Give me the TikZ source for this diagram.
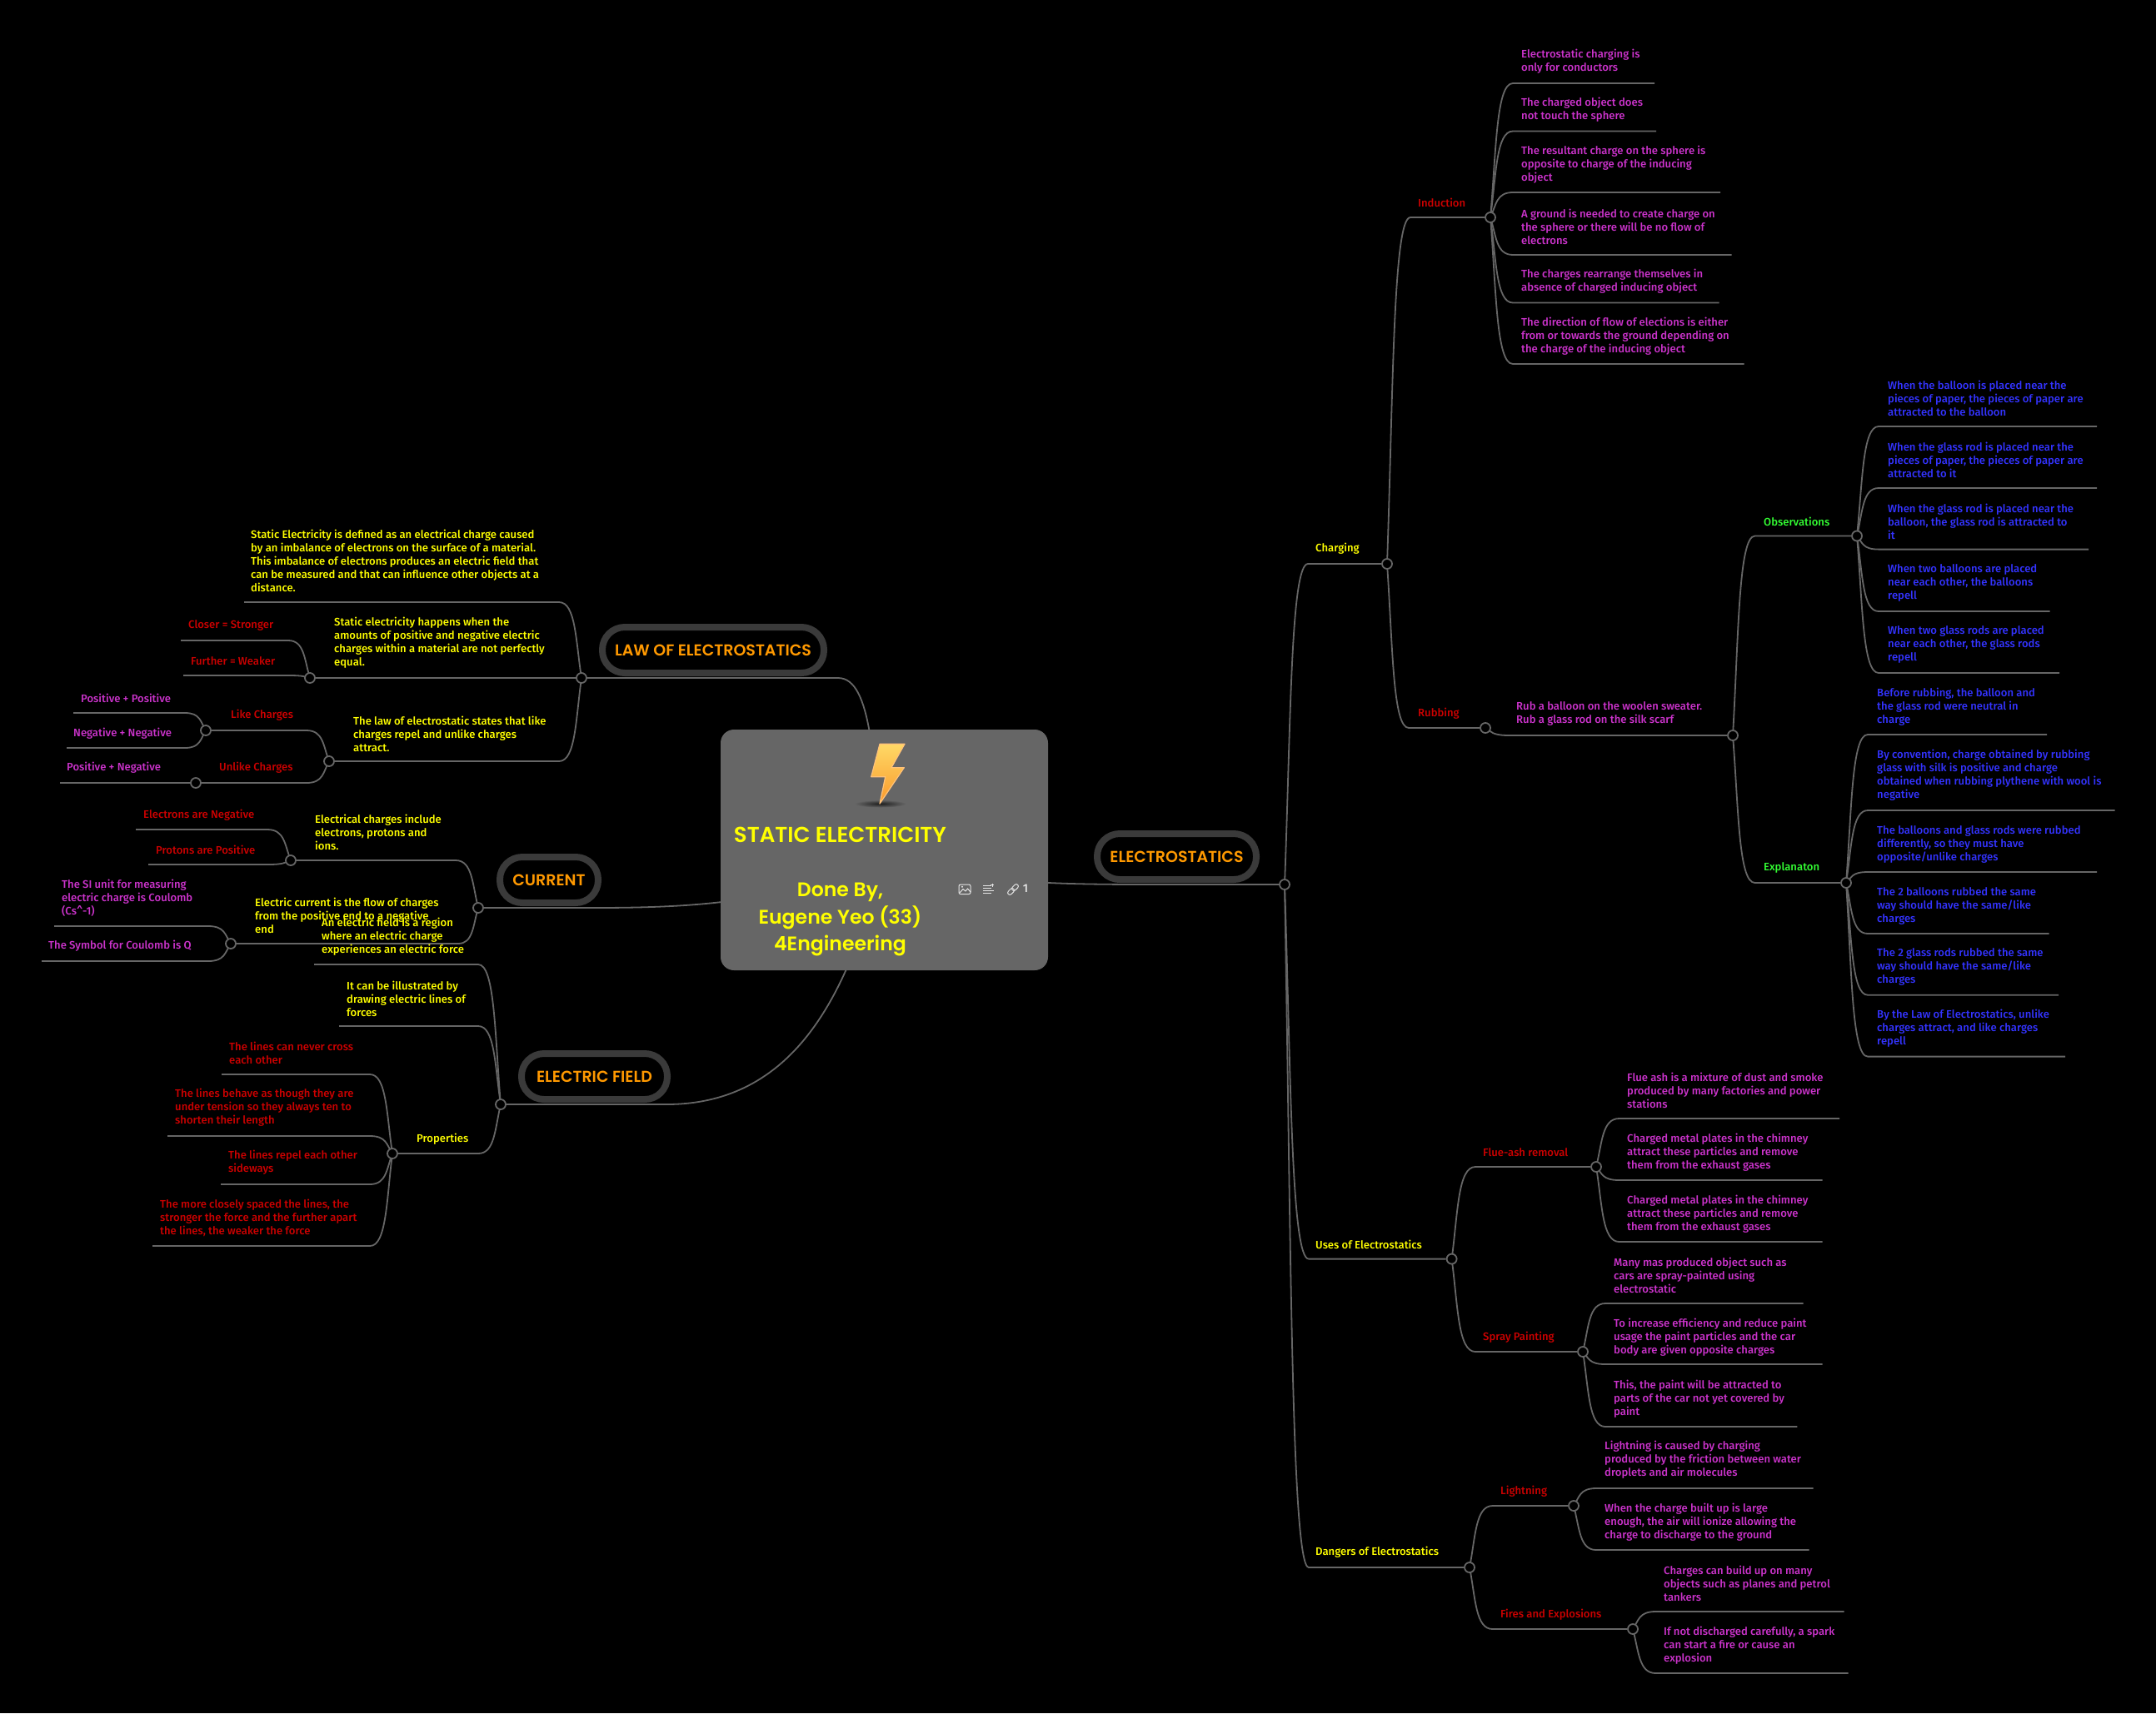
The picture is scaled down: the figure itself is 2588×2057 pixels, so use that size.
\documentclass[tikz,border=0pt]{standalone}
\usepackage{fontspec}
\setmainfont{Fira Sans}[UprightFont=* Medium,BoldFont=* SemiBold]
\newfontfamily\headfont{Poppins}[UprightFont=* SemiBold]
\usetikzlibrary{calc,shadings}
\pgfdeclarelayer{wires}
\pgfsetlayers{wires,main}
\definecolor{cyel}{HTML}{FFFF00}
\definecolor{cred}{HTML}{CC0000}
\definecolor{cmag}{HTML}{CC33CC}
\definecolor{cblu}{HTML}{3333FF}
\definecolor{cgrn}{HTML}{33FF33}
\definecolor{corg}{HTML}{FF9900}
\definecolor{cwire}{HTML}{666666}
\definecolor{cpill}{HTML}{3A3A3A}
\definecolor{bolttop}{HTML}{FFD966}
\definecolor{boltbot}{HTML}{F9982B}
\definecolor{boltedge}{HTML}{FFC27A}
\tikzset{
  wire/.style={draw=cwire,line width=1.8pt},
  hub/.style={circle,draw=cwire,fill=black,line width=1.8pt,minimum size=12pt,inner sep=0pt},
  lab/.style={anchor=west,inner sep=0pt,align=left,yshift=-1pt,font=\fontsize{13.1}{16}\selectfont},
  yl/.style={lab,text=cyel}, rd/.style={lab,text=cred}, mg/.style={lab,text=cmag},
  bl/.style={lab,text=cblu}, gn/.style={lab,text=cgrn},
  pill/.style={draw=cpill,fill=black,line width=8pt,rounded corners=27pt,inner sep=0pt,text=corg,font=\headfont\fontsize{19}{20}\selectfont},
  iconln/.style={draw=white!90!black,line width=1pt}
}
\newcommand\leaf[5]{% hub, name, startx, endx, y
  \coordinate (#2s) at (#3,#5); \coordinate (#2e) at (#4,#5);
  \begin{pgfonlayer}{wires}
  \draw[wire] let \p1=(#1),\p2=(#2s) in (\p1) .. controls ({\x1+0.26*(\x2-\x1)},{\y1+0.5*(\y2-\y1)}) and ({\x1+0.26*(\x2-\x1)},\y2) .. (\p2) -- (#2e);
  \end{pgfonlayer}}
\newcommand\hublink[5]{% parent, name, startx, y, child hub
  \coordinate (#2s) at (#3,#4);
  \begin{pgfonlayer}{wires}
  \draw[wire] let \p1=(#1),\p2=(#2s) in (\p1) .. controls ({\x1+0.26*(\x2-\x1)},{\y1+0.5*(\y2-\y1)}) and ({\x1+0.26*(\x2-\x1)},\y2) .. (\p2) -- (#5);
  \end{pgfonlayer}}
\begin{document}
\begin{tikzpicture}[x=1pt,y=-1pt]
\useasboundingbox (0,0) rectangle (2588,2057);
\begin{pgfonlayer}{wires}
\fill[black] (0,0) rectangle (2588,2057);
\end{pgfonlayer}
% central
\node[fill=cwire,rounded corners=16pt,minimum width=393pt,minimum height=289pt,inner sep=0pt] (central) at (1061.5,1020.5) {};
% hubs
\node[hub] (hE) at (1542,1062) {};
\node[hub] (hLaw) at (698,814) {};
\node[hub] (hStat) at (372,814) {};
\node[hub] (hLawS) at (395,914) {};
\node[hub] (hLike) at (247,877) {};
\node[hub] (hUnl) at (235,940) {};
\node[hub] (hCur) at (574,1090) {};
\node[hub] (hIncl) at (349,1033) {};
\node[hub] (hFlow) at (277,1133) {};
\node[hub] (hFld) at (601,1326) {};
\node[hub] (hProp) at (471,1385) {};
\node[hub] (hChg) at (1665,677) {};
\node[hub] (hInd) at (1789,261) {};
\node[hub] (hRub) at (1783,874) {};
\node[hub] (hRubT) at (2080,883) {};
\node[hub] (hObs) at (2229,643.5) {};
\node[hub] (hExp) at (2216,1060) {};
\node[hub] (hUse) at (1742.6,1511.6) {};
\node[hub] (hDan) at (1764,1882) {};
\node[hub] (hFlue) at (1916,1401) {};
\node[hub] (hSpr) at (1900,1623) {};
\node[hub] (hLit) at (1889,1808) {};
\node[hub] (hFir) at (1960,1956) {};
% pills
\node[pill,minimum width=266pt,minimum height=55pt] (pLaw) at (856,780.5) {LAW OF ELECTROSTATICS};
\node[pill,minimum width=118pt,minimum height=55pt] (pCur) at (659,1056.5) {CURRENT};
\node[pill,minimum width=175pt,minimum height=55pt] (pFld) at (713.5,1292.5) {ELECTRIC FIELD};
\node[pill,minimum width=191pt,minimum height=55pt] (pEl) at (1412.5,1028.5) {ELECTROSTATICS};
% main branches from central
\coordinate (sEl) at (1400,1062);
\coordinate (sCur) at (700,1090);
\coordinate (sFld) at (800,1326);
\begin{pgfonlayer}{wires}
\draw[wire] (central.center) .. controls (1150,1062) and (1260,1062) .. (sEl) -- (hE);
\draw[wire] (central.center) .. controls (960,1090) and (800,1090) .. (sCur) -- (hCur);
\draw[wire] (central.center) .. controls (1020,1200) and (950,1326) .. (sFld) -- (hFld);
\draw[wire] (hStat) -- (hLaw);
\end{pgfonlayer}
\hublink{central}{bLaw}{1006}{814}{hLaw}
% LAW
\leaf{hLaw}{a1}{671}{293}{723}
\node[yl] (ta1) at (301,672) {Static Electricity is defined as an electrical charge caused\\by an imbalance of electrons on the surface of a material.\\This imbalance of electrons produces an electric field that\\can be measured and that can influence other objects at a\\distance.};
\node[yl] (ta2) at (401,770.5) {Static electricity happens when the\\amounts of positive and negative electric\\charges within a material are not perfectly\\equal.};
\hublink{hLaw}{a3}{671}{914}{hLawS}
\node[yl] (ta3) at (424,880) {The law of electrostatic states that like\\charges repel and unlike charges\\attract.};
\leaf{hStat}{a4}{346}{217}{769}
\node[rd] (ta4) at (226,750) {Closer = Stronger};
\leaf{hStat}{a5}{346}{220}{811}
\node[rd] (ta5) at (229,792.5) {Further = Weaker};
\hublink{hLawS}{a6}{368}{877}{hLike}
\node[rd] (ta6) at (277,858) {Like Charges};
\hublink{hLawS}{a7}{368}{940}{hUnl}
\node[rd] (ta7) at (263,921) {Unlike Charges};
\leaf{hLike}{a8}{222}{88}{856}
\node[mg] (ta8) at (97,837.5) {Positive + Positive};
\leaf{hLike}{a9}{222}{80}{898}
\node[mg] (ta9) at (88,880) {Negative + Negative};
\coordinate (a10e) at (72,940);
\begin{pgfonlayer}{wires}\draw[wire] (hUnl) -- (a10e);\end{pgfonlayer}
\node[mg] (ta10) at (80,921) {Positive + Negative};
% CURRENT
\hublink{hCur}{b1}{547}{1033}{hIncl}
\node[yl] (tb1) at (378,998.6) {Electrical charges include\\electrons, protons and\\ions.};
\hublink{hCur}{b2}{550}{1133}{hFlow}
\node[yl] (tb2) at (306,1098.6) {Electric current is the flow of charges\\from the positive end to a negative\\end};
\leaf{hIncl}{b3}{321}{163}{996}
\node[rd] (tb3) at (172,977.5) {Electrons are Negative};
\leaf{hIncl}{b4}{321}{178}{1038}
\node[rd] (tb4) at (187,1019) {Protons are Positive};
\leaf{hFlow}{b5}{250}{65}{1112}
\node[mg] (tb5) at (74,1077.5) {The SI unit for measuring\\electric charge is Coulomb\\(Cs\string^-1)};
\leaf{hFlow}{b6}{250}{50}{1154}
\node[mg] (tb6) at (58,1135) {The Symbol for Coulomb is Q};
% FIELD
\leaf{hFld}{c1}{574}{377}{1158}
\node[yl] (tc1) at (386,1123.6) {An electric field is a region\\where an electric charge\\experiences an electric force};
\leaf{hFld}{c2}{574}{407}{1232}
\node[yl] (tc2) at (416,1198) {It can be illustrated by\\drawing electric lines of\\forces};
\hublink{hFld}{c3}{574}{1385}{hProp}
\node[yl] (tc3) at (500,1367) {Properties};
\leaf{hProp}{c4}{444}{266}{1290}
\node[rd] (tc4) at (275,1263) {The lines can never cross\\each other};
\leaf{hProp}{c5}{444}{201}{1364}
\node[rd] (tc5) at (210,1329) {The lines behave as though they are\\under tension so they always ten to\\shorten their length};
\leaf{hProp}{c6}{444}{265}{1422}
\node[rd] (tc6) at (274,1395) {The lines repel each other\\sideways};
\leaf{hProp}{c7}{444}{183}{1496}
\node[rd] (tc7) at (192,1461) {The more closely spaced the lines, the\\stronger the force and the further apart\\the lines, the weaker the force};
% ELECTROSTATICS
\hublink{hE}{d1}{1570}{677}{hChg}
\node[yl] (td1) at (1579,658) {Charging};
\hublink{hE}{d2}{1571}{1511.6}{hUse}
\node[yl] (td2) at (1579,1493) {Uses of Electrostatics};
\hublink{hE}{d3}{1571}{1882}{hDan}
\node[yl] (td3) at (1579,1863) {Dangers of Electrostatics};
\hublink{hChg}{d4}{1693}{261}{hInd}
\node[rd] (td4) at (1702,242) {Induction};
\hublink{hChg}{d5}{1691}{874}{hRub}
\node[rd] (td5) at (1702,856) {Rubbing};
% induction
\leaf{hInd}{e1}{1816}{1986}{100}
\node[mg] (te1) at (1826,73) {Electrostatic charging is\\only for conductors};
\leaf{hInd}{e2}{1816}{1988}{157.5}
\node[mg] (te2) at (1826,131) {The charged object does\\not touch the sphere};
\leaf{hInd}{e3}{1816}{2065}{231}
\node[mg] (te3) at (1826,197) {The resultant charge on the sphere is\\opposite to charge of the inducing\\object};
\leaf{hInd}{e4}{1816}{2078.5}{306}
\node[mg] (te4) at (1826,271) {A ground is needed to create charge on\\the sphere or there will be no flow of\\electrons};
\leaf{hInd}{e5}{1816}{2063.5}{363.5}
\node[mg] (te5) at (1826,337) {The charges rearrange themselves in\\absence of charged inducing object};
\leaf{hInd}{e6}{1816}{2093.5}{437}
\node[mg] (te6) at (1826,403) {The direction of flow of elections is either\\from or towards the ground depending on\\the charge of the inducing object};
% rubbing
\hublink{hRub}{f1}{1812}{883}{hRubT}
\node[mg] (tf1) at (1820,856) {Rub a balloon on the woolen sweater.\\Rub a glass rod on the silk scarf};
\hublink{hRubT}{f2}{2106.5}{643.5}{hObs}
\node[gn] (tf2) at (2117,625) {Observations};
\hublink{hRubT}{f3}{2106.5}{1060}{hExp}
\node[gn] (tf3) at (2117,1041) {Explanaton};
% observations
\leaf{hObs}{g1}{2255}{2517}{512}
\node[bl] (tg1) at (2266,477.5) {When the balloon is placed near the\\pieces of paper, the pieces of paper are\\attracted to the balloon};
\leaf{hObs}{g2}{2255}{2517}{586}
\node[bl] (tg2) at (2266,551) {When the glass rod is placed near the\\pieces of paper, the pieces of paper are\\attracted to it};
\leaf{hObs}{g3}{2255}{2507}{659.6}
\node[bl] (tg3) at (2266,625) {When the glass rod is placed near the\\balloon, the glass rod is attracted to\\it};
\leaf{hObs}{g4}{2255}{2460.6}{734}
\node[bl] (tg4) at (2266,699) {When two balloons are placed\\near each other, the balloons\\repell};
\leaf{hObs}{g5}{2255}{2472}{808}
\node[bl] (tg5) at (2266,773) {When two glass rods are placed\\near each other, the glass rods\\repell};
% explanation
\leaf{hExp}{k1}{2242}{2457}{882}
\node[bl] (tk1) at (2253,847.6) {Before rubbing, the balloon and\\the glass rod were neutral in\\charge};
\leaf{hExp}{k2}{2242}{2538.6}{973}
\node[bl] (tk2) at (2253,929.5) {By convention, charge obtained by rubbing\\glass with silk is positive and charge\\obtained when rubbing plythene with wool is\\negative};
\leaf{hExp}{k3}{2242}{2517}{1047}
\node[bl] (tk3) at (2253,1012.6) {The balloons and glass rods were rubbed\\differently, so they must have\\opposite/unlike charges};
\leaf{hExp}{k4}{2242}{2459.5}{1121}
\node[bl] (tk4) at (2253,1086.5) {The 2 balloons rubbed the same\\way should have the same/like\\charges};
\leaf{hExp}{k5}{2242}{2471}{1194.7}
\node[bl] (tk5) at (2253,1160) {The 2 glass rods rubbed the same\\way should have the same/like\\charges};
\leaf{hExp}{k6}{2242}{2479}{1268.6}
\node[bl] (tk6) at (2253,1234) {By the Law of Electrostatics, unlike\\charges attract, and like charges\\repell};
% uses
\hublink{hUse}{m1}{1771}{1401}{hFlue}
\node[rd] (tm1) at (1780,1382.5) {Flue-ash removal};
\hublink{hUse}{m2}{1771}{1623}{hSpr}
\node[rd] (tm2) at (1780,1604.5) {Spray Painting};
\leaf{hFlue}{n1}{1943.6}{2208}{1343}
\node[mg] (tn1) at (1953,1308) {Flue ash is a mixture of dust and smoke\\produced by many factories and power\\stations};
\leaf{hFlue}{n2}{1943.6}{2187.6}{1417}
\node[mg] (tn2) at (1953,1382.5) {Charged metal plates in the chimney\\attract these particles and remove\\them from the exhaust gases};
\leaf{hFlue}{n3}{1943.6}{2187.6}{1491}
\node[mg] (tn3) at (1953,1456.5) {Charged metal plates in the chimney\\attract these particles and remove\\them from the exhaust gases};
\leaf{hSpr}{o1}{1927}{2164.5}{1565}
\node[mg] (to1) at (1937,1530.5) {Many mas produced object such as\\cars are spray-painted using\\electrostatic};
\leaf{hSpr}{o2}{1927}{2187.6}{1638}
\node[mg] (to2) at (1937,1604.5) {To increase efficiency and reduce paint\\usage the paint particles and the car\\body are given opposite charges};
\leaf{hSpr}{o3}{1927}{2157.4}{1713}
\node[mg] (to3) at (1937,1678.6) {This, the paint will be attracted to\\parts of the car not yet covered by\\paint};
% dangers
\hublink{hDan}{p1}{1791.6}{1808}{hLit}
\node[rd] (tp1) at (1801,1790) {Lightning};
\hublink{hDan}{p2}{1791.6}{1956}{hFir}
\node[rd] (tp2) at (1801,1937.5) {Fires and Explosions};
\leaf{hLit}{q1}{1916}{2176.7}{1787}
\node[mg] (tq1) at (1926,1752) {Lightning is caused by charging\\produced by the friction between water\\droplets and air molecules};
\leaf{hLit}{q2}{1916}{2171.6}{1861}
\node[mg] (tq2) at (1926,1826.5) {When the charge built up is large\\enough, the air will ionize allowing the\\charge to discharge to the ground};
\leaf{hFir}{r1}{1987.5}{2213.5}{1935}
\node[mg] (tr1) at (1997,1900) {Charges can build up on many\\objects such as planes and petrol\\tankers};
\leaf{hFir}{r2}{1987.5}{2218.7}{2009}
\node[mg] (tr2) at (1997,1975) {If not discharged carefully, a spark\\can start a fire or cause an\\explosion};
% central title
\node[align=center,inner sep=0pt,text=cyel,font=\headfont\fontsize{23.6}{32.7}\selectfont] (title) at (1008.5,1070.5) {{\fontsize{26}{32.7}\selectfont STATIC ELECTRICITY}\\[0pt]\mbox{}\\Done By,\\Eugene Yeo (33)\\4Engineering};
% bolt
\shade[inner color=black!70!cwire,outer color=cwire] (1056.7,965) ellipse (31pt and 4.5pt);
\shade[top color=bolttop,bottom color=boltbot,draw=boltedge,line width=1.2pt,line join=round]
 (1056,893.3) -- (1086,893.3) -- (1070,921.7) -- (1085.3,921.7) -- (1056,965) -- (1062.7,932.7) -- (1045.7,932.7) -- cycle;
% icons
\draw[iconln,rounded corners=2pt] (1151,1062) rectangle (1165,1073.5);
\draw[iconln] (1152,1072) -- (1156,1067.5) -- (1159,1070) -- (1161.5,1067) -- (1165,1071);
\fill[white!90!black] (1155,1064.7) circle (1.2pt);
\foreach \yy/\xx in {1063/1190,1066/1190,1069/1193,1072/1190}{\draw[iconln] (1180,\yy) -- (\xx,\yy);}
\draw[iconln] (1189,1062.5) -- (1193,1062.5) (1191,1060.5) -- (1191,1064.5);
\begin{scope}[rotate around={45:(1216,1068)}]
\draw[iconln,rounded corners=2.5pt] (1208,1065.5) rectangle (1217,1070.5);
\draw[iconln,rounded corners=2.5pt] (1215,1065.5) rectangle (1224,1070.5);
\end{scope}
\node[inner sep=0pt,text=white!90!black,font=\fontsize{14}{14}\selectfont] (cnt) at (1231,1067) {1};
\end{tikzpicture}
\end{document}
